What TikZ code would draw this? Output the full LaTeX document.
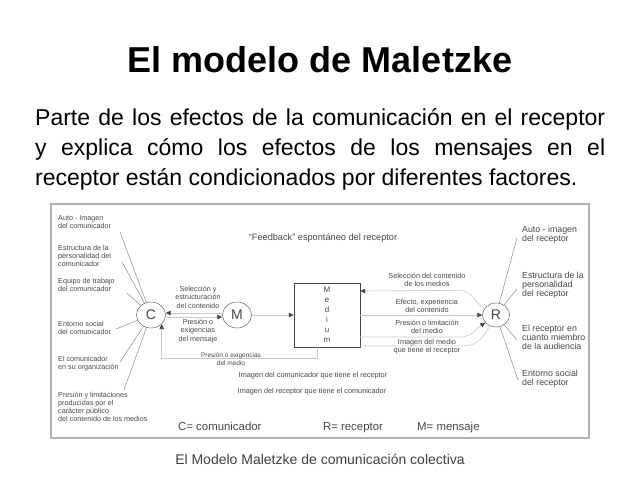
\documentclass[tikz,border=0pt]{standalone}
\usepackage{fontspec}
\setmainfont{Liberation Sans}
\usetikzlibrary{arrows.meta,positioning,shapes.geometric}
\definecolor{txtgray}{HTML}{474747}
\definecolor{raygray}{HTML}{8C8C8C}
\definecolor{faintgray}{HTML}{C8C8C8}
\tikzset{
  lbl/.style={font=\fontsize{7.2}{8}\selectfont, text=txtgray, align=left, inner sep=0pt, anchor=west},
  rlbl/.style={font=\fontsize{8.8}{9}\selectfont, text=txtgray, align=left, inner sep=0pt, anchor=west},
  midlbl/.style={font=\fontsize{7.2}{8.4}\selectfont, text=txtgray, align=center, inner sep=0pt},
  agent/.style={ellipse, draw=txtgray, thin, minimum width=29pt, minimum height=26pt, inner sep=0pt,
    font=\fontsize{14}{14}\selectfont, text=txtgray},
  ray/.style={draw=raygray, line width=0.5pt},
  flow/.style={draw=faintgray, line width=0.6pt},
  legend/.style={font=\fontsize{11.4}{12}\selectfont, text=txtgray, inner sep=0pt},
  para/.style={font=\fontsize{23}{30}\selectfont, anchor=base west, inner sep=0pt}
}
\begin{document}
\begin{tikzpicture}[x=1pt,y=1pt,>={Triangle[length=5pt,width=4.5pt,color=txtgray]}]
\useasboundingbox (0,0) rectangle (638,-479);

% title and text
\node[font=\fontsize{36}{40}\selectfont\bfseries, anchor=base, inner sep=0pt] (titulo) at (320,-72) {El modelo de Maletzke};
\node[para] (p1) at (35,-125) {\makebox[570pt][s]{Parte de los efectos de la comunicación en el receptor}};
\node[para] (p2) at (35,-155) {\makebox[570pt][s]{y explica cómo los efectos de los mensajes en el}};
\node[para] (p3) at (35,-185) {receptor están condicionados por diferentes factores.};

% frame of the figure
\draw[draw=black!30, line width=1.2pt] (51,-204) rectangle (589,-438);

% main nodes
\node[agent] (C) at (151,-315) {C};
\node[agent] (M) at (237,-315) {M};
\node[agent, minimum width=27pt, minimum height=24pt] (R) at (496,-315) {R};
\node[draw=txtgray, thin, minimum width=66pt, minimum height=64pt, align=center, inner sep=0pt,
  font=\fontsize{8}{10}\selectfont, text=txtgray] (medio) at (327,-315) {M\\e\\d\\i\\u\\m};

% communicator side
\node[lbl] (c1) at (58,-222) {Auto - Imagen\\del comunicador};
\node[lbl] (c2) at (58,-256) {Estructura de la\\personalidad del\\comunicador};
\node[lbl] (c3) at (58,-285) {Equipo de trabajo\\del comunicador};
\node[lbl] (c4) at (58,-327.5) {Entorno social\\del comunicador};
\node[lbl] (c5) at (58,-363.5) {El comunicador\\en su organización};
\node[lbl] (c6) at (58,-407) {Presión y limitaciones\\producidas por el\\carácter público\\del contenido de los medios};
\coordinate (e1) at (120,-232);
\coordinate (e2) at (122,-262);
\coordinate (e3) at (127,-293);
\coordinate (e4) at (116,-329);
\coordinate (e5) at (120,-362);
\coordinate (e6) at (124,-390);
\foreach \e in {e1,e2,e3,e4,e5,e6}
  \draw[ray] (C) -- (\e);

% receptor side
\node[rlbl] (r1) at (522,-234.5) {Auto - imagen\\del receptor};
\node[rlbl] (r2) at (522,-285) {Estructura de la\\personalidad\\del receptor};
\node[rlbl] (r3) at (522,-337) {El receptor en\\cuanto miembro\\de la audiencia};
\node[rlbl] (r4) at (522,-378.5) {Entorno social\\del receptor};
\coordinate (f1) at (517,-238);
\coordinate (f2) at (517,-289);
\coordinate (f3) at (517,-340);
\coordinate (f4) at (518,-380);
\foreach \f in {f1,f2,f3,f4}
  \draw[ray] (R) -- (\f);

% message flow
\node[midlbl] (sel) at (198,-297) {Selección y\\estructuración\\del contenido};
\node[midlbl] (pres) at (198,-331) {Presión o\\exigencias\\del mensaje};
\draw[flow,->] ([yshift=2pt]M.west) -- ([yshift=2pt]C.east);
\draw[flow,->] ([yshift=-2pt]C.east) -- ([yshift=-2pt]M.west);
\draw[flow,->] (M) -- (medio);
\draw[flow,->] ([xshift=-10pt]medio.south) -- ++(0,-11) -| (C.-40);
\node[midlbl, font=\fontsize{6.5}{7.6}\selectfont] (pmedio) at (231,-359) {Presión o exigencias\\del medio};

% receptor and medium
\node[midlbl, font=\fontsize{7.3}{8}\selectfont] (rsel) at (427,-280) {Selección del contenido\\de los medios};
\node[midlbl, font=\fontsize{7.3}{8}\selectfont] (refe) at (427,-306) {Efecto, experiencia\\del contenido};
\node[midlbl, font=\fontsize{7.3}{8}\selectfont] (rpre) at (427,-326.5) {Presión o limitación\\del medio};
\node[midlbl, font=\fontsize{7.3}{8}\selectfont] (rima) at (427,-347) {Imagen del medio\\que tiene el receptor};
\draw[flow,->] (R.150) to[out=150,in=0] ++(-25,18) -- ([yshift=24pt]medio.east);
\draw[flow,->] (medio.east) -- (R.west);
\draw[flow,->] ([yshift=-22pt]medio.east) -- ++(100,0) to[out=0,in=215] (R.215);
\draw[flow] (R.240) to[out=240,in=0] ++(-25,-20) -- ([yshift=-31pt]medio.east);

% other texts
\node[font=\fontsize{9.2}{10}\selectfont, text=txtgray] (feed) at (323,-238) {“Feedback” espontáneo del receptor};
\node[midlbl, font=\fontsize{7.3}{8}\selectfont] (img1) at (313,-376) {Imagen del comunicador que tiene el receptor};
\node[midlbl, font=\fontsize{7.3}{8}\selectfont] (img2) at (312,-392) {Imagen del receptor que tiene el comunicador};
\node[legend, anchor=base west] (lc) at (178,-430) {C= comunicador};
\node[legend, anchor=base] (lr) at (353,-430) {R= receptor};
\node[legend, anchor=base west] (lm) at (417,-430) {M= mensaje};
\node[font=\fontsize{14}{16}\selectfont, text=black!75] (pie) at (320,-459) {El Modelo Maletzke de comunicación colectiva};
\end{tikzpicture}
\end{document}
